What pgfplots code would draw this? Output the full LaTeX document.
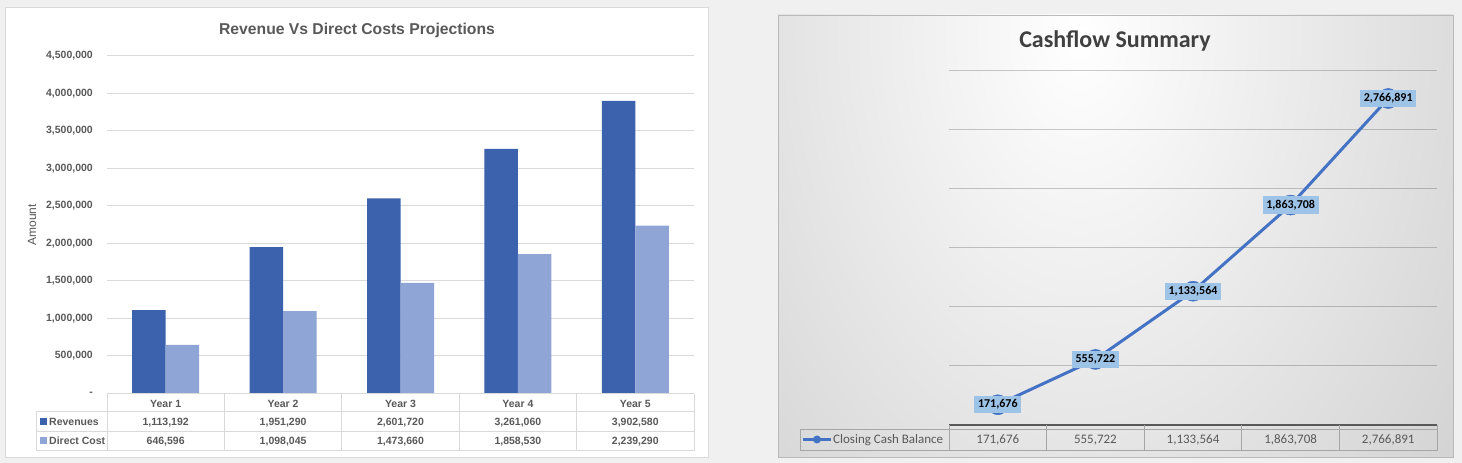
\documentclass[border=0pt]{standalone}
\usepackage{pgfplots}
\pgfplotsset{compat=1.18}
\usepackage{fontspec}
\setmainfont{Liberation Sans}
\newfontfamily\carlito{Carlito}
\definecolor{bgc}{HTML}{F0F0F0}
\definecolor{bord}{HTML}{D9D9D9}
\definecolor{txt}{HTML}{595959}
\definecolor{rev}{HTML}{3D62AD}
\definecolor{dc}{HTML}{8FA5D5}
\definecolor{lineb}{HTML}{4472C4}
\definecolor{lab}{HTML}{9DC3E6}
\definecolor{gout}{HTML}{C0C0C0}
\definecolor{tbl}{HTML}{A6A6A6}
\definecolor{ttl}{HTML}{404040}
\begin{document}
\begin{tikzpicture}
\begin{scope}[x=1bp,y=1bp]
\fill[bgc] (0,0) rectangle (1462,463);
% ---------------- left chart frame
\filldraw[fill=white, draw=bord, line width=1bp] (5.5,455.5) rectangle (708.5,5.5);
\node[anchor=base, font=\fontsize{15.7bp}{18bp}\selectfont\bfseries, text=txt] at (357,428.3) {Revenue Vs Direct Costs Projections};
\node[rotate=90, font=\fontsize{12bp}{14bp}\selectfont, text=txt] at (32,238) {Amount};
% ---------------- right chart frame
\begin{scope}
\clip (778,448) rectangle (1453,6);
\shade[inner color=white, outer color=gout] (1080,428) ellipse (680 and 1000);
\end{scope}
\draw[gray!55, line width=0.8bp] (778,448) rectangle (1453,6);
\node[anchor=base, font=\carlito\bfseries\fontsize{24bp}{28bp}\selectfont, text=ttl] at (1115,415) {Cashflow Summary};
\end{scope}
\begin{axis}[at={(107bp,69.5bp)}, anchor=south west, scale only axis,
  width=587bp, height=337.5bp,
  xmin=-0.5, xmax=4.5, ymin=0, ymax=4500000,
  axis line style={draw=none}, xtick=\empty, scaled y ticks=false,
  ytick={0,500000,1000000,1500000,2000000,2500000,3000000,3500000,4000000,4500000},
  yticklabels={{-},{500,000},{1,000,000},{1,500,000},{2,000,000},{2,500,000},{3,000,000},{3,500,000},{4,000,000},{4,500,000}},
  ymajorgrids, grid style={bord, line width=1bp},
  major tick length=0pt,
  yticklabel style={font=\fontsize{10.5bp}{12bp}\selectfont\bfseries, text=txt, anchor=east, inner sep=0pt, xshift=-14bp},
  ybar, bar width=33.5bp, clip=false]
\addplot[fill=rev, draw=none, bar shift=-16.75bp] coordinates {(0,1113192) (1,1951290) (2,2601720) (3,3261060) (4,3902580)};
\addplot[fill=dc, draw=none, bar shift=16.75bp] coordinates {(0,646596) (1,1098045) (2,1473660) (3,1858530) (4,2239290)};
\end{axis}
\begin{axis}[at={(949bp,38bp)}, anchor=south west, scale only axis,
  width=488bp, height=354bp,
  xmin=-0.5, xmax=4.5, ymin=0, ymax=3000000,
  axis line style={draw=none}, xtick=\empty, scaled y ticks=false,
  ytick={500000,1000000,1500000,2000000,2500000,3000000},
  yticklabels={}, ymajorgrids, grid style={black, opacity=0.2, line width=1bp},
  major tick length=0pt, clip=false]
\addplot[lineb, line width=3bp, mark=*, mark size=10bp,
  mark options={fill=lineb, draw=lineb, line width=0.5bp},
  point meta=explicit symbolic, nodes near coords,
  every node near coord/.append style={anchor=center, fill=lab, text=black,
    font=\carlito\bfseries\fontsize{12bp}{14bp}\selectfont,
    inner xsep=3.7bp, inner ysep=3.3bp, text height=8.5bp, text depth=2.2bp}]
  coordinates {(0,171676) [171,676] (1,555722) [555,722] (2,1133564) [1,133,564] (3,1863708) [1,863,708] (4,2766891) [2,766,891]};
\end{axis}
\begin{scope}[x=1bp,y=1bp]
% left data table
\begin{scope}[bord, line width=1bp]
\draw (107,69) -- (694,69);
\draw (36,51) -- (694,51);
\draw (36,31.5) -- (694,31.5);
\draw (36,12) -- (694,12);
\draw (36,51) -- (36,12);
\foreach \x in {107,224.4,341.8,459.2,576.6,694} \draw (\x,69) -- (\x,12);
\end{scope}
\begin{scope}[every node/.style={anchor=base, font=\fontsize{10.5bp}{12bp}\selectfont\bfseries, text=txt, inner sep=0pt}]
\node at (165.7,55.7) {Year 1};
\node at (283.1,55.7) {Year 2};
\node at (400.5,55.7) {Year 3};
\node at (517.9,55.7) {Year 4};
\node at (635.3,55.7) {Year 5};
\node at (165.7,37.7) {1,113,192};
\node at (283.1,37.7) {1,951,290};
\node at (400.5,37.7) {2,601,720};
\node at (517.9,37.7) {3,261,060};
\node at (635.3,37.7) {3,902,580};
\node at (165.7,18.7) {646,596};
\node at (283.1,18.7) {1,098,045};
\node at (400.5,18.7) {1,473,660};
\node at (517.9,18.7) {1,858,530};
\node at (635.3,18.7) {2,239,290};
\node[anchor=base west] at (49,37.7) {Revenues};
\node[anchor=base west] at (49,18.7) {Direct Cost};
\end{scope}
\fill[rev] (40,44.5) rectangle (47,37.5);
\fill[dc] (40,25.5) rectangle (47,18.5);
% right table
\draw[txt, line width=1.6bp] (949,38) -- (1437,38);
\draw[tbl, line width=0.9bp] (800,34) rectangle (1437,13);
\foreach \x in {949,1046.6,1144.2,1241.8,1339.4,1437} \draw[tbl, line width=0.9bp] (\x,38) -- (\x,13);
\draw[lineb, line width=3bp] (803,23.5) -- (831,23.5);
\fill[lineb] (817,23.5) circle (4bp);
\begin{scope}[every node/.style={anchor=base, font=\carlito\fontsize{13bp}{15bp}\selectfont, text=txt, inner sep=0pt}]
\node[anchor=base west] at (833,19) {Closing Cash Balance};
\node at (997.8,19) {171,676};
\node at (1095.4,19) {555,722};
\node at (1193,19) {1,133,564};
\node at (1290.6,19) {1,863,708};
\node at (1388.2,19) {2,766,891};
\end{scope}
\path[use as bounding box] (0,0) rectangle (1462,463);
\end{scope}
\end{tikzpicture}
\end{document}
